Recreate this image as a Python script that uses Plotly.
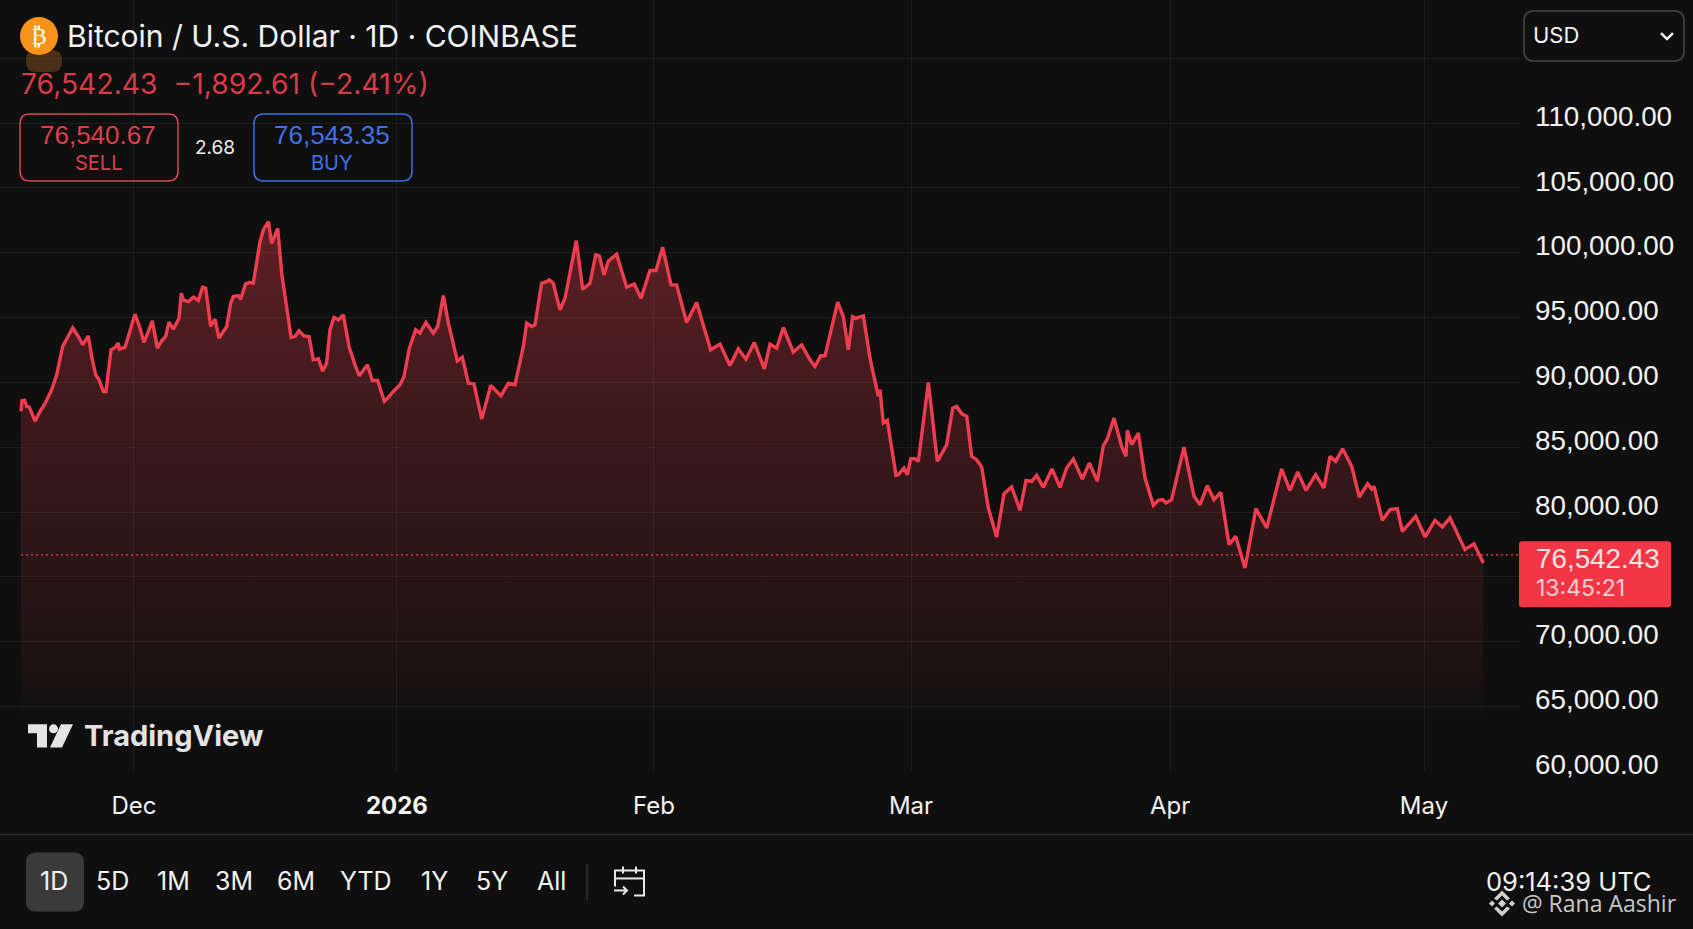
import plotly.graph_objects as go

W = 1693
H = 938
Y_FIT = 1.0102  # the photographed page comes out about 1% short in height, stretch positions to suit
BG = "#0f0f0f"
RED = "#ee3d4e"
FONT = "Inter"
NUM_FONT = "Liberation Sans"

# position along the time axis (about one unit per daily bar) and price
bar_pos = [
    2.47, 2.59, 2.90, 3.14, 3.45, 4.12, 4.71, 5.29, 6.08, 6.67, 7.37, 7.84, 8.55, 9.22, 9.73, 10.39, 10.78, 11.25,
    11.65, 12.16, 12.47, 13.06, 13.53, 13.92, 14.04, 14.71, 15.22, 15.88, 16.47, 16.94, 17.45, 17.92, 18.51, 19.02,
    19.49, 19.88, 20.39, 20.90, 21.06, 21.33, 21.57, 22.16, 22.75, 23.33, 23.84, 24.20, 24.78, 25.29, 25.76, 26.67,
    27.14, 27.45, 28.04, 28.31, 28.90, 29.33, 29.80, 30.59, 30.98, 31.57, 31.96, 32.67, 33.14, 34.24, 34.71, 35.18,
    35.76, 36.35, 36.86, 37.45, 37.96, 38.43, 38.82, 39.29, 39.80, 40.39, 41.06, 41.76, 42.27, 43.22, 43.80, 44.43,
    45.22, 45.69, 46.27, 47.06, 47.53, 48.16, 48.90, 49.41, 50.12, 50.98, 51.49, 52.16, 52.75, 53.80, 54.39, 55.10,
    55.76, 56.67, 57.73, 58.94, 59.80, 60.59, 61.18, 61.57, 61.96, 62.55, 62.94, 63.72, 64.23, 64.62, 65.09, 65.88,
    66.47, 67.80, 68.55, 69.41, 70.08, 70.51, 71.06, 71.57, 72.55, 73.72, 74.62, 75.41, 76.47, 77.18, 77.96, 78.94,
    79.60, 80.78, 81.96, 83.60, 84.71, 85.88, 86.86, 87.76, 88.74, 89.92, 90.59, 91.37, 92.16, 93.33, 94.31, 95.29,
    95.88, 96.55, 97.06, 98.55, 99.21, 99.80, 100.31, 100.71, 101.57, 102.35, 103.33, 103.53, 103.92, 104.39, 105.41,
    105.69, 106.35, 106.75, 107.14, 107.65, 108.04, 109.22, 110.27, 110.78, 111.37, 112.08, 112.55, 113.14, 113.73,
    114.31, 114.90, 115.49, 116.27, 117.25, 118.12, 119.02, 120.00, 120.71, 121.37, 121.96, 122.75, 123.76, 124.71,
    125.49, 126.27, 127.33, 128.16, 129.10, 129.80, 130.27, 131.06, 131.96, 132.47, 132.63, 133.14, 133.92, 134.71,
    135.69, 136.27, 136.78, 137.18, 137.84, 139.29, 140.47, 141.18, 142.04, 142.82, 143.61, 144.59, 145.37, 146.47,
    147.76, 149.02, 150.78, 151.76, 152.67, 153.65, 154.78, 155.76, 156.47, 157.14, 157.96, 159.02, 159.92, 160.90,
    161.37, 161.65, 162.63, 163.53, 164.39, 164.98, 166.55, 167.65, 168.82, 169.69, 170.59, 172.35, 173.41, 174.51,
]
price = [
    87761, 88583, 88609, 88146, 88095, 87016, 87761, 88352, 89430, 90586, 92769, 93334, 94207, 93539, 92897, 93591,
    91998, 90586, 90201, 89302, 89302, 92512, 92692, 93026, 92563, 92717, 93796, 95260, 94181, 93077, 93924, 94746,
    92640, 93205, 93539, 94643, 94104, 94695, 94952, 96878, 96364, 96236, 96569, 96313, 97340, 97263, 94310, 94875,
    93411, 94310, 96107, 96621, 96698, 96415, 97597, 97699, 97648, 100858, 101757, 102399, 100730, 101885, 98418,
    93462, 93539, 93976, 93591, 93539, 91742, 91819, 90868, 91485, 94053, 95003, 94823, 95208, 92769, 91356, 90509,
    91356, 90149, 90149, 88532, 88840, 89302, 89816, 90458, 92640, 94053, 93796, 94618, 93796, 94310, 96698, 94566,
    91665, 91947, 89944, 89893, 87171, 89764, 88968, 89944, 89816, 91613, 92769, 94566, 94310, 94438, 97648, 97751,
    97905, 97648, 95594, 96492, 100935, 97186, 97648, 99831, 99754, 98290, 99369, 99882, 97340, 97597, 96492, 98624,
    98624, 100421, 97520, 97520, 94618, 96159, 92512, 92949, 91305, 92589, 91793, 93077, 91048, 92949, 92640, 94233,
    92332, 92897, 91742, 91228, 92050, 92050, 96184, 95080, 92512, 95080, 94952, 95131, 91870, 88917, 89431, 86863,
    87068, 82831, 82882, 83396, 82882, 84115, 84115, 83910, 89996, 83910, 84552, 85194, 88018, 88147, 87582, 87376,
    84295, 84038, 83473, 80314, 78080, 81419, 81932, 80135, 82446, 82369, 82831, 81907, 83319, 81907, 83396, 84089,
    82549, 83781, 82369, 85117, 85630, 87248, 85065, 84295, 86298, 85194, 86092, 82626, 80520, 80905, 80956, 80700,
    80956, 85014, 81213, 80571, 82035, 80956, 81521, 77489, 78131, 75692, 80263, 78773, 83319, 81675, 83087, 81675,
    82882, 81855, 84294, 83909, 84885, 83524, 81161, 82189, 81778, 81983, 79364, 80186, 80263, 78516, 79672, 78080,
    79364, 78850, 79544, 77104, 77566, 76077,
]
price_line_level = 76700

x_tick_pos = [15.76, 46.70, 76.94, 107.18, 137.65, 167.53]
x_tick_text = ["Dec", "<b>2026</b>", "Feb", "Mar", "Apr", "May"]
y_tick_vals = [115000, 110000, 105000, 100000, 95000, 90000, 85000, 80000, 75000, 70000, 65000, 60000]
y_tick_text = ["", "110,000.00", "105,000.00", "100,000.00", "95,000.00", "90,000.00", "85,000.00", "80,000.00", "",
               "70,000.00", "65,000.00", "60,000.00"]
range_buttons = ["1D", "5D", "1M", "3M", "6M", "YTD", "1Y", "5Y", "All"]
range_button_x = [54, 112, 173, 234, 296, 366, 434, 492, 551]

PLOT_RIGHT = 1520
PLOT_BOTTOM = 771


def px(x):
    return x / W


def py(y):
    return 1 - y * Y_FIT / H


def text(x, y, s, size, color="#f2f2f2", anchor="left", font=FONT):
    return dict(xref="paper", yref="paper", x=px(x), y=py(y), text=s, showarrow=False, xanchor=anchor,
                yanchor="middle", font=dict(family=font, size=size, color=color), borderpad=0)


def rect(x0, y0, x1, y1, fill="rgba(0,0,0,0)", line="rgba(0,0,0,0)", r=10, width=1.5, opacity=1):
    # rounded box drawn in picture pixels
    p = (f"M {px(x0 + r)} {py(y0)} L {px(x1 - r)} {py(y0)} Q {px(x1)} {py(y0)} {px(x1)} {py(y0 + r)} "
         f"L {px(x1)} {py(y1 - r)} Q {px(x1)} {py(y1)} {px(x1 - r)} {py(y1)} "
         f"L {px(x0 + r)} {py(y1)} Q {px(x0)} {py(y1)} {px(x0)} {py(y1 - r)} "
         f"L {px(x0)} {py(y0 + r)} Q {px(x0)} {py(y0)} {px(x0 + r)} {py(y0)} Z")
    return dict(type="path", xref="paper", yref="paper", path=p, fillcolor=fill, opacity=opacity,
                line=dict(color=line, width=width))


def poly(points, fill="rgba(0,0,0,0)", line="rgba(0,0,0,0)", width=1.5, close=True):
    p = "M " + " L ".join(f"{px(x)} {py(y)}" for x, y in points) + (" Z" if close else "")
    return dict(type="path", xref="paper", yref="paper", path=p, fillcolor=fill, line=dict(color=line, width=width))


def diamond(cx, cy, r, fill):
    return poly([(cx, cy - r), (cx + r, cy), (cx, cy + r), (cx - r, cy)], fill=fill)


fig = go.Figure()
fig.add_trace(go.Scatter(
    x=bar_pos, y=price, mode="lines", fill="tozeroy", hoverinfo="skip", showlegend=False,
    line=dict(color=RED, width=3.4),
    fillgradient=dict(type="vertical", start=64500, stop=102000,
                      colorscale=[[0, "rgba(225,60,72,0)"], [0.15, "rgba(225,60,72,0.08)"],
                                  [0.65, "rgba(225,60,72,0.23)"], [1, "rgba(225,60,72,0.38)"]]),
))
fig.add_trace(go.Scatter(
    x=[bar_pos[0], PLOT_RIGHT / 8.5], y=[price_line_level, price_line_level], mode="lines", hoverinfo="skip",
    showlegend=False, line=dict(color="rgba(242,54,69,0.8)", width=1.8, dash="2px 3px"),
))

shapes = [
    # bottom toolbar
    dict(type="line", xref="paper", yref="paper", x0=0, x1=1, y0=py(834), y1=py(834),
         line=dict(color="#2b2b2b", width=1.5)),
    rect(26, 852, 84, 911, fill="#3a3a3a", r=10),
    dict(type="line", xref="paper", yref="paper", x0=px(587), x1=px(587), y0=py(864), y1=py(900),
         line=dict(color="#333333", width=1.5)),
    # calendar icon
    poly([(615, 886), (615, 870), (644, 870), (644, 895), (634, 895)], line="#e8e8e8", width=2, close=False),
    poly([(615, 878), (644, 878)], line="#e8e8e8", width=2, close=False),
    poly([(623, 866), (623, 873)], line="#e8e8e8", width=2, close=False),
    poly([(636, 866), (636, 873)], line="#e8e8e8", width=2, close=False),
    poly([(614, 890), (627, 890)], line="#e8e8e8", width=2, close=False),
    poly([(623, 886), (627, 890), (623, 894)], line="#e8e8e8", width=2, close=False),
    # coin smudge and coin
    rect(26, 50, 62, 72, fill="#7a4a1c", r=10, opacity=0.55),
    dict(type="circle", xref="paper", yref="paper", x0=px(20), x1=px(58), y0=py(17), y1=py(55),
         fillcolor="#f7931a", line=dict(width=0)),
    # sell / buy boxes
    rect(20, 114, 178, 181, line="#e0424f"),
    rect(254, 114, 412, 181, line="#3b6fe0"),
    # currency selector
    rect(1524, 11, 1684, 61, line="#474747", r=10),
    poly([(1661, 33), (1667, 39), (1673, 33)], line="#f2f2f2", width=2.5, close=False),
    # last price tag
    rect(1519, 541, 1671, 607, fill="#f23645", r=3),
    # TradingView mark
    poly([(28, 724), (47, 724), (47, 747), (37, 747), (37, 733), (28, 733)], fill="#e4e4e4"),
    dict(type="circle", xref="paper", yref="paper", x0=px(49), x1=px(58), y0=py(724), y1=py(733),
         fillcolor="#e4e4e4", line=dict(width=0)),
    poly([(61, 724), (73, 724), (62, 747), (50, 747)], fill="#e4e4e4"),
    # watermark mark
    diamond(1502, 903, 4, "#cfcfcf"),
    diamond(1492, 903, 3, "#cfcfcf"),
    diamond(1512, 903, 3, "#cfcfcf"),
    poly([(1502, 890), (1510, 898), (1507, 900), (1502, 895), (1497, 900), (1494, 898)], fill="#cfcfcf"),
    poly([(1502, 916), (1510, 908), (1507, 906), (1502, 911), (1497, 906), (1494, 908)], fill="#cfcfcf"),
]

annotations = [
    text(39, 36, "₿", 23, "#ffffff", "center", "DejaVu Sans"),
    text(66, 36, "Bitcoin / U.S. Dollar · 1D · COINBASE", 30),
    text(20, 84, "76,542.43  −1,892.61 (−2.41%)", 28.3, "#d63c48"),
    text(98, 135, "76,540.67", 26, "#dc3f4c", "center", NUM_FONT),
    text(98, 163, "SELL", 20, "#dc3f4c", "center"),
    text(215, 147, "2.68", 19, "#f0f0f0", "center"),
    text(332, 135, "76,543.35", 26, "#3f72e4", "center", NUM_FONT),
    text(332, 163, "BUY", 20, "#3f72e4", "center"),
    text(1532, 35, "USD", 22),
    text(1535, 558, "76,542.43", 27.8, "#f6e3e4", font=NUM_FONT),
    text(1535, 588, "13:45:21", 23, "#f6cdd0"),
    text(83, 735, "<b>TradingView</b>", 29, "#e4e4e4"),
    text(1652, 881, "09:14:39 UTC", 25.5, "#f2f2f2", "right"),
    text(1521, 903, "@ Rana Aashir", 23, "#c8c8c8", font="Open Sans"),
]
for label, x in zip(range_buttons, range_button_x):
    annotations.append(text(x, 881, label, 25, "#f2f2f2", "center"))

fig.update_layout(
    width=W, height=H, margin=dict(l=0, r=0, t=0, b=0), autosize=False,
    paper_bgcolor=BG, plot_bgcolor=BG, font=dict(family=FONT, color="#f2f2f2"),
    shapes=shapes, annotations=annotations,
    xaxis=dict(domain=[0, PLOT_RIGHT / W], range=[0, PLOT_RIGHT / 8.5], tickmode="array", tickvals=x_tick_pos,
               ticktext=x_tick_text, showgrid=True, gridcolor="#1d1d1d", gridwidth=1, zeroline=False, showline=False,
               ticks="", ticklabelstandoff=18, tickfont=dict(size=24, color="#f2f2f2", family=FONT)),
    yaxis=dict(domain=[py(PLOT_BOTTOM), 1], range=[60000, 119490], side="right", tickmode="array",
               tickvals=y_tick_vals, ticktext=y_tick_text, showgrid=True, gridcolor="#1d1d1d", gridwidth=1,
               zeroline=False, showline=False, ticks="", ticklabelstandoff=14, ticklabelshift=-7,
               tickfont=dict(size=27.8, color="#f2f2f2", family=NUM_FONT)),
)

fit_page = """
var s = document.createElement('style');
s.textContent = 'html,body{margin:0;padding:0;overflow:hidden;background:#0f0f0f}';
document.head.appendChild(s);
"""
fig.write_html("out.html", config={"displayModeBar": False}, post_script=fit_page)
